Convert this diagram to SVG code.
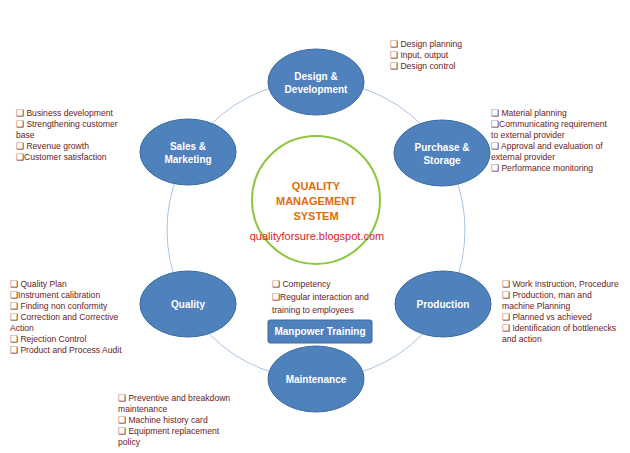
<svg xmlns="http://www.w3.org/2000/svg" width="630" height="453" viewBox="0 0 630 453">
<style>
.n{fill:#4f81bd;stroke:#3a6aa0;stroke-width:1}
.nt{font-family:"Liberation Sans",Arial,sans-serif;font-size:10px;font-weight:bold;fill:#fff;text-anchor:middle}
.b{font-family:"Liberation Sans",Arial,sans-serif;font-size:8.6px;fill:#6b1a1a}
.c{fill:none;stroke:#a9c4e6;stroke-width:1}
</style>
<rect width="630" height="453" fill="#fff"/>
<g id="connectors"><circle class="c" cx="316" cy="230" r="149"/></g>
<g id="center">
<circle cx="316" cy="200" r="64" fill="#fff" stroke="#8dc63f" stroke-width="2"/>
<g font-family="Liberation Sans,Arial,sans-serif" font-size="11px" font-weight="bold" fill="#e36c09" text-anchor="middle">
<text x="316" y="190">QUALITY</text><text x="316" y="205">MANAGEMENT</text><text x="316" y="220">SYSTEM</text></g>
<text x="317" y="240" font-family="Liberation Sans,Arial,sans-serif" font-size="11px" fill="#e02020" text-anchor="middle">qualityforsure.blogspot.com</text>
</g>
<g id="design"><ellipse class="n" cx="316" cy="82" rx="48" ry="33"/><text class="nt" x="316" y="80">Design &amp;</text><text class="nt" x="316" y="93">Development</text></g>
<g id="sales"><ellipse class="n" cx="188" cy="152" rx="48" ry="33"/><text class="nt" x="188" y="150">Sales &amp;</text><text class="nt" x="188" y="163">Marketing</text></g>
<g id="purchase"><ellipse class="n" cx="442" cy="153" rx="48" ry="33"/><text class="nt" x="442" y="151">Purchase &amp;</text><text class="nt" x="442" y="164">Storage</text></g>
<g id="quality"><ellipse class="n" cx="188" cy="304" rx="48" ry="33"/><text class="nt" x="188" y="308">Quality</text></g>
<g id="production"><ellipse class="n" cx="443" cy="304" rx="48" ry="33"/><text class="nt" x="443" y="308">Production</text></g>
<g id="maintenance"><ellipse class="n" cx="316" cy="379" rx="48" ry="33"/><text class="nt" x="316" y="383">Maintenance</text></g>
<g id="manpower"><rect x="268" y="320" width="104" height="23" rx="2" fill="#4f81bd" stroke="#3a6aa0"/><text class="nt" x="320" y="335">Manpower Training</text></g>
<g class="b">
<text x="390" y="47">❑ Design planning</text><text x="390" y="58">❑ Input, output</text><text x="390" y="69">❑ Design control</text>
<text x="16" y="116">❑ Business development</text><text x="16" y="127">❑ Strengthening customer</text><text x="16" y="138">base</text><text x="16" y="149">❑ Revenue growth</text><text x="16" y="160">❑Customer satisfaction</text>
<text x="491" y="116">❑ Material planning</text><text x="491" y="127">❑Communicating requirement</text><text x="491" y="138">to external provider</text><text x="491" y="149">❑ Approval and evaluation of</text><text x="491" y="160">external provider</text><text x="491" y="171">❑ Performance monitoring</text>
<text x="10" y="287">❑ Quality Plan</text><text x="10" y="298">❑Instrument calibration</text><text x="10" y="309">❑ Finding non conformity</text><text x="10" y="320">❑ Correction and Corrective</text><text x="10" y="331">Action</text><text x="10" y="342">❑ Rejection Control</text><text x="10" y="353">❑ Product and Process Audit</text>
<text x="272" y="287">❑ Competency</text><text x="272" y="300">❑Regular interaction and</text><text x="272" y="313">training to employees</text>
<text x="502" y="287">❑ Work Instruction, Procedure</text><text x="502" y="298">❑ Production, man and</text><text x="502" y="309">machine Planning</text><text x="502" y="320">❑ Planned vs achieved</text><text x="502" y="331">❑ Identification of bottlenecks</text><text x="502" y="342">and action</text>
<text x="118" y="401">❑ Preventive and breakdown</text><text x="118" y="412">maintenance</text><text x="118" y="423">❑ Machine history card</text><text x="118" y="434">❑ Equipment replacement</text><text x="118" y="445">policy</text>
</g>
</svg>
